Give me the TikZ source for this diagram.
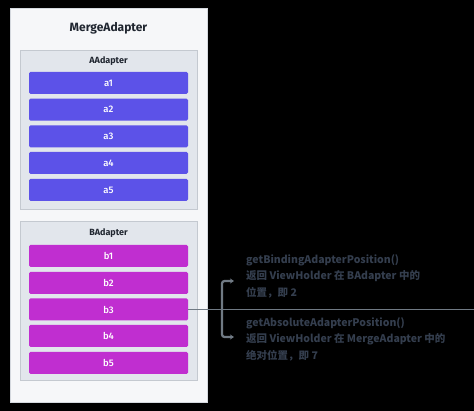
\documentclass[tikz,border=0pt]{standalone}
\usepackage{fontspec}
\setmainfont{Fira Sans}
\newfontfamily\medfont{Fira Sans}[UprightFont={* Medium}]
\newfontfamily\cjk{Noto Sans CJK SC}
\usepackage{tikz}
\usetikzlibrary{positioning, arrows.meta}
\definecolor{NightBlack}{RGB}{0, 0, 0}
\definecolor{PanelWhite}{RGB}{246, 247, 249}
\definecolor{PanelEdge}{RGB}{212, 216, 222}
\definecolor{GroupGrey}{RGB}{226, 230, 236}
\definecolor{GroupEdge}{RGB}{196, 201, 208}
\definecolor{ItemViolet}{RGB}{92, 82, 232}
\definecolor{ItemMagenta}{RGB}{192, 46, 208}
\definecolor{TitleInk}{RGB}{32, 38, 48}
\definecolor{LinkGrey}{RGB}{112, 122, 132}
\definecolor{NoteSlate}{RGB}{52, 62, 78}

\begin{document}
\begin{tikzpicture}[x=1pt, y=-1pt,
    panel/.style={fill=PanelWhite, draw=PanelEdge, line width=0.8pt},
    group/.style={fill=GroupGrey, draw=GroupEdge, line width=0.6pt},
    itemA/.style={fill=ItemViolet, rounded corners=1.5pt, minimum width=159pt, minimum height=22pt,
        text=white, font=\medfont\fontsize{9.5}{9.5}\selectfont},
    itemB/.style={itemA, fill=ItemMagenta},
    head/.style={text=TitleInk, font=\fontsize{9}{9}\selectfont\bfseries},
    note/.style={anchor=north west, align=left, inner sep=0pt, text=NoteSlate,
        font=\cjk\bfseries\fontsize{10.5}{16.5}\selectfont},
    link/.style={draw=LinkGrey, line width=0.8pt},
    brace/.style={draw=LinkGrey, line width=2.2pt, rounded corners=2.5pt}]
    \fill[NightBlack] (0,0) rectangle (474,411);
    \useasboundingbox (0,0) rectangle (474,411);
    % outer adapter
    \draw[panel] (10,8) rectangle (207,402);
    \node[head, font=\fontsize{12}{12}\selectfont\bfseries] (merge) at (108.5,28) {MergeAdapter};
    % first group
    \draw[group] (20,50) rectangle (197,209);
    \node[head] (groupA) at (108.5,61) {AAdapter};
    \node[itemA] (a1) at (108.5,83) {a1};
    \node[itemA] (a2) at (108.5,109.7) {a2};
    \node[itemA] (a3) at (108.5,136.4) {a3};
    \node[itemA] (a4) at (108.5,163) {a4};
    \node[itemA] (a5) at (108.5,190) {a5};
    % second group
    \draw[group] (20,221.5) rectangle (197,380);
    \node[head] (groupB) at (108.5,233) {BAdapter};
    \node[itemB] (b1) at (108.5,256) {b1};
    \node[itemB] (b2) at (108.5,283) {b2};
    \node[itemB] (b3) at (108.5,309.5) {b3};
    \node[itemB] (b4) at (108.5,336) {b4};
    \node[itemB] (b5) at (108.5,363) {b5};
    % notes on b3
    \node[note] (noteLocal) at (246,254) {getBindingAdapterPosition()\\
        返回 ViewHolder 在 BAdapter 中的\\位置，即 2};
    \node[note] (noteAbs) at (246,317) {getAbsoluteAdapterPosition()\\
        返回 ViewHolder 在 MergeAdapter 中的\\绝对位置，即 7};
    \coordinate (bracemid) at (222,309.5);
    \coordinate (tipLocal) at (234,281);
    \coordinate (tipAbs) at (234,337);
    \coordinate (lineend) at (474,309.5);
    \draw[link] (b3.east) -- (bracemid) -- (lineend);
    \draw[brace, -{Stealth[length=4pt, width=5pt]}] (bracemid) |- (tipLocal);
    \draw[brace, -{Stealth[length=4pt, width=5pt]}] (bracemid) |- (tipAbs);
\end{tikzpicture}
\end{document}
